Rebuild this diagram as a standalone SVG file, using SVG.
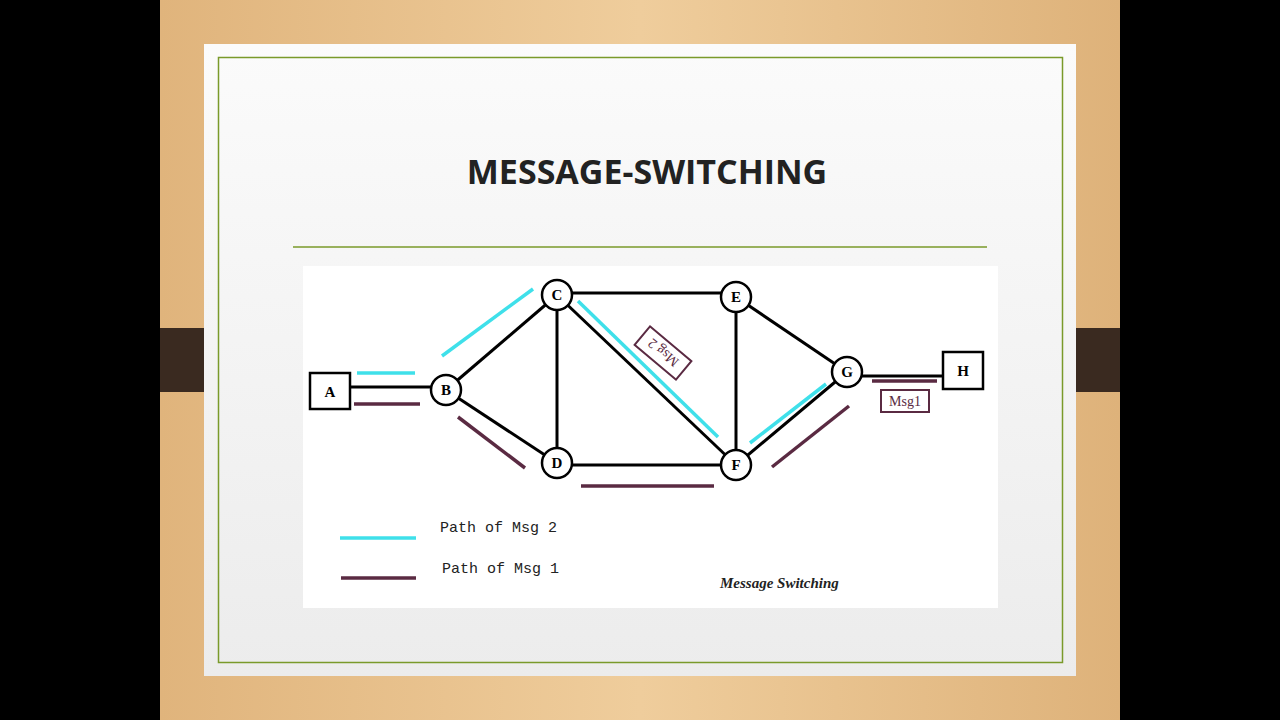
<svg xmlns="http://www.w3.org/2000/svg" width="1280" height="720" viewBox="0 0 1280 720">
<defs>
<linearGradient id="wood" x1="0" y1="0" x2="1" y2="0">
<stop offset="0" stop-color="#e0b47c"/><stop offset="0.5" stop-color="#efcd9c"/><stop offset="1" stop-color="#deb27a"/>
</linearGradient>
<linearGradient id="slide" x1="0" y1="0" x2="0" y2="1">
<stop offset="0" stop-color="#fbfbfb"/><stop offset="1" stop-color="#ececec"/>
</linearGradient>
</defs>
<style>
.e{stroke:#000;stroke-width:3;fill:none}
.c{stroke:#3fe0ea;stroke-width:3.5;fill:none}
.p{stroke:#5a2a42;stroke-width:3.5;fill:none}
.n{fill:#fff;stroke:#000;stroke-width:2.5}
.t{font-family:"Liberation Serif",serif;font-weight:bold;font-size:15px;text-anchor:middle}
.l{font-family:"Liberation Mono",monospace;font-size:15px;fill:#222}
</style>
<rect width="1280" height="720" fill="#000"/>
<rect x="160" y="0" width="960" height="720" fill="url(#wood)"/>
<rect x="160" y="328" width="72" height="64" fill="#3a2a20"/>
<rect x="1048" y="328" width="72" height="64" fill="#3a2a20"/>
<rect x="204" y="44" width="872" height="632" fill="url(#slide)"/>
<rect x="218.5" y="57.5" width="844" height="605" fill="none" stroke="#7a9a2a" stroke-width="1.5"/>
<text x="647" y="184" font-family="Open Sans,Liberation Sans,sans-serif" font-weight="bold" font-size="34" text-anchor="middle" fill="#222">MESSAGE-SWITCHING</text>
<line x1="293" y1="247" x2="987" y2="247" stroke="#7a9a2a" stroke-width="1.5"/>
<rect x="303" y="266" width="695" height="342" fill="#fff"/>
<g id="connectors">
<line class="e" x1="350" y1="387" x2="446" y2="387"/>
<line class="e" x1="446" y1="390" x2="557" y2="295"/>
<line class="e" x1="446" y1="390" x2="557" y2="463"/>
<line class="e" x1="557" y1="295" x2="557" y2="463"/>
<line class="e" x1="557" y1="293" x2="736" y2="293"/>
<line class="e" x1="557" y1="295" x2="736" y2="465"/>
<line class="e" x1="736" y1="297" x2="736" y2="465"/>
<line class="e" x1="736" y1="297" x2="847" y2="372"/>
<line class="e" x1="557" y1="465" x2="736" y2="465"/>
<line class="e" x1="736" y1="465" x2="847" y2="372"/>
<line class="e" x1="847" y1="376" x2="943" y2="376"/>
<line class="c" x1="357" y1="373" x2="415" y2="373"/>
<line class="c" x1="442" y1="356" x2="533" y2="289"/>
<line class="c" x1="578" y1="301" x2="718" y2="437"/>
<line class="c" x1="750" y1="443" x2="826" y2="384"/>
<line class="p" x1="354" y1="404" x2="420" y2="404"/>
<line class="p" x1="458" y1="417" x2="525" y2="468"/>
<line class="p" x1="581" y1="486" x2="714" y2="486"/>
<line class="p" x1="772" y1="467" x2="849" y2="406"/>
<line class="p" x1="872" y1="381" x2="937" y2="381"/>
</g>
<g id="A"><rect class="n" x="310" y="373" width="40" height="36"/><text class="t" x="330" y="397">A</text></g>
<g id="B"><circle class="n" cx="446" cy="390" r="15"/><text class="t" x="446" y="395">B</text></g>
<g id="C"><circle class="n" cx="557" cy="295" r="15"/><text class="t" x="557" y="300">C</text></g>
<g id="D"><circle class="n" cx="557" cy="463" r="15"/><text class="t" x="557" y="468">D</text></g>
<g id="E"><circle class="n" cx="736" cy="297" r="15"/><text class="t" x="736" y="302">E</text></g>
<g id="F"><circle class="n" cx="736" cy="465" r="15"/><text class="t" x="736" y="470">F</text></g>
<g id="G"><circle class="n" cx="847" cy="372" r="15"/><text class="t" x="847" y="377">G</text></g>
<g id="H"><rect class="n" x="943" y="352" width="40" height="37"/><text class="t" x="963" y="376">H</text></g>
<g id="msg2" transform="translate(663,353) rotate(40)">
<rect x="-27" y="-12" width="54" height="24" fill="#fff" stroke="#5a2a42" stroke-width="2"/>
<text x="0" y="5" font-family="Liberation Serif,serif" font-size="14" text-anchor="middle" fill="#5a2a42" transform="rotate(180)">Msg 2</text>
</g>
<g id="msg1"><rect x="881" y="390" width="48" height="22" fill="#fff" stroke="#5a2a42" stroke-width="2"/>
<text x="905" y="406" font-family="Liberation Serif,serif" font-size="14" text-anchor="middle" fill="#5a2a42">Msg1</text></g>
<g id="legend">
<line class="c" x1="340" y1="538" x2="416" y2="538"/>
<line class="p" x1="341" y1="578" x2="416" y2="578"/>
<text class="l" x="440" y="532">Path of Msg 2</text>
<text class="l" x="442" y="573">Path of Msg 1</text>
<text x="720" y="588" font-family="Liberation Serif,serif" font-style="italic" font-weight="bold" font-size="15" fill="#222">Message Switching</text>
</g>
</svg>
